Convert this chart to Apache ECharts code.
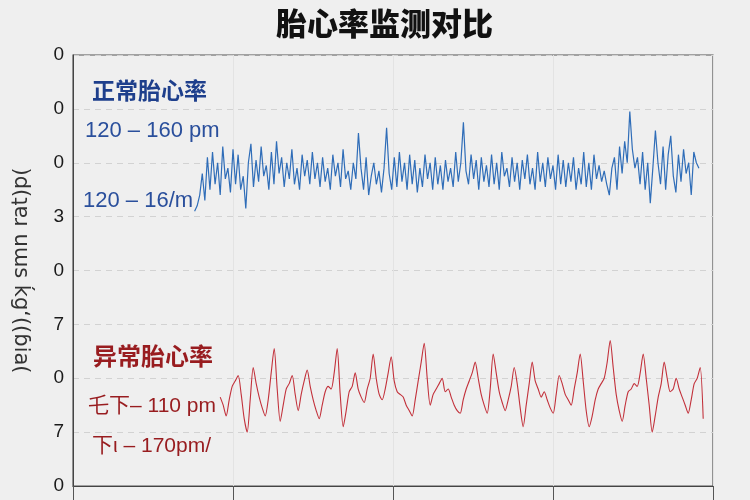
<!DOCTYPE html>
<html>
<head>
<meta charset="utf-8">
<script src="https://cdn.jsdelivr.net/npm/echarts@6/dist/echarts.min.js"></script>
<style>
  html, body { margin: 0; padding: 0; background: #efefef; }
  #main { width: 750px; height: 500px; }
</style>
</head>
<body>
<div id="main"></div>
<script>
// y axis tick labels (bottom to top), as printed in the picture
const yTickLabels = ['0', '7', '0', '7', '0', '3', '0', '0', '0']

// normal trace: start time (min) and sample step (min)
const normalStart = 7.6
const normalStep = 0.16
const normalFHR = [
  142, 144, 148, 156, 146, 162, 150, 164, 152, 160,
  148, 166, 154, 158, 149, 165, 152, 163, 150, 155,
  143, 160, 167, 151, 161, 153, 166, 155, 159, 150,
  164, 152, 168, 156, 162, 151, 160, 154, 165, 152,
  158, 150, 163, 155, 161, 152, 164, 154, 160, 151,
  162, 153, 158, 150, 163, 155, 160, 151, 165, 154,
  157, 150, 160, 154, 171, 158, 150, 162, 148, 155,
  160, 152, 157, 149, 158, 173, 156, 150, 162, 151,
  164, 153, 160, 150, 163, 152, 161, 149, 158, 151,
  163, 154, 160, 150, 162, 152, 159, 150, 161, 153,
  158, 151, 164, 153, 160, 175, 157, 152, 163, 154,
  161, 150, 162, 153, 159, 151, 163, 152, 160, 150,
  164, 155, 158, 151, 162, 153, 160, 150, 161, 154,
  163, 152, 158, 150, 164, 153, 160, 151, 162, 154,
  159, 150, 163, 152, 161, 151, 160, 153, 162, 150,
  158, 152, 164, 151, 160, 150, 163, 154, 159, 153,
  157, 152, 148, 158, 162, 150, 166, 156, 168, 160,
  179, 165, 158, 162, 152, 164, 150, 160, 145, 158,
  172, 160, 152, 166, 150, 163, 170, 155, 149, 163,
  153, 165, 156, 160, 148, 164, 160, 158
]

// abnormal trace
const abnormalStart = 9.2
const abnormalStep = 0.1875
const abnormalFHR = [
  73, 70, 66, 72, 77, 79, 81, 74, 65, 60,
  72, 84, 78, 73, 69, 66, 72, 82, 91, 76,
  64, 70, 76, 78, 81, 74, 68, 74, 79, 83,
  77, 72, 68, 65, 70, 75, 77, 76, 82, 91,
  74, 62, 68, 75, 77, 82, 76, 73, 71, 76,
  80, 89, 80, 74, 72, 76, 82, 88, 79, 75,
  74, 73, 70, 68, 66, 72, 79, 86, 93, 80,
  70, 74, 76, 78, 80, 75, 76, 73, 70, 68,
  67, 72, 76, 79, 82, 86, 80, 74, 70, 67,
  76, 89, 82, 75, 71, 68, 72, 77, 84, 78,
  69, 62, 70, 78, 86, 79, 76, 73, 75, 72,
  69, 67, 74, 81, 78, 74, 72, 70, 76, 82,
  89, 79, 68, 62, 66, 72, 76, 78, 80, 86,
  94, 84, 74, 68, 64, 70, 75, 76, 78, 77,
  82, 89, 80, 70, 60, 66, 73, 78, 86, 80,
  75, 76, 80, 76, 73, 70, 67, 72, 78, 80,
  84, 65
]

const toPairs = (start, step, vals) => vals.map((v, i) => [start + i * step, v])

const chart = echarts.init(document.getElementById('main'))
const latin = 'Liberation Sans, Arial, "Noto Sans CJK SC", sans-serif'
const cjk = '"Noto Sans CJK SC", sans-serif'

chart.setOption({
  backgroundColor: '#efefef',
  animation: false,
  title: {
    text: '胎心率监测对比',
    left: 271,
    top: 3,
    textStyle: { fontFamily: cjk, fontSize: 31, fontWeight: 900, color: '#111' },
  },
  grid: {
    left: 73, right: 37, top: 55, bottom: 14,
    show: true, borderColor: '#555', borderWidth: 1.2,
  },
  xAxis: {
    type: 'value',
    min: 0,
    max: 40,
    interval: 10,
    axisLine: { show: true, lineStyle: { color: '#444' } },
    axisTick: { show: true, length: 14, lineStyle: { color: '#555' } },
    axisLabel: { show: false },
    splitLine: { show: true, lineStyle: { color: '#e3e3e3', width: 1 } },
  },
  yAxis: {
    type: 'value',
    min: 40,
    max: 200,
    interval: 20,
    name: ')d(ʇɐɹ uɯs ḱgʻ((ɓia(',
    nameLocation: 'middle',
    nameRotate: -90,
    nameGap: 42,
    nameTextStyle: { fontFamily: 'DejaVu Sans, sans-serif', fontSize: 21, color: '#333' },
    axisLine: { show: true, lineStyle: { color: '#444' } },
    axisTick: { show: false },
    axisLabel: {
      fontFamily: latin, fontSize: 19, color: '#1a1a1a', margin: 9,
      formatter: (v) => yTickLabels[Math.round((v - 40) / 20)],
    },
    splitLine: { lineStyle: { color: '#d2d2d2', type: [6, 5] } },
  },
  series: [
    {
      name: '正常胎心率',
      type: 'line',
      data: toPairs(normalStart, normalStep, normalFHR),
      showSymbol: false,
      lineStyle: { color: '#2f6db8', width: 1.2 },
      z: 3,
    },
    {
      name: '异常胎心率',
      type: 'line',
      data: toPairs(abnormalStart, abnormalStep, abnormalFHR),
      showSymbol: false,
      smooth: 0.25,
      lineStyle: { color: '#c2303a', width: 1.1 },
      z: 3,
    },
  ],
  graphic: [
    { type: 'text', left: 92, top: 79, style: { text: '正常胎心率', fill: '#1e3f8c', font: 'bold 23px ' + cjk } },
    { type: 'text', left: 85, top: 120, style: { text: '120 – 160 pm', fill: '#2a4f9c', font: '22px ' + latin } },
    { type: 'text', left: 83, top: 190, style: { text: '120 – 16/m', fill: '#2a4f9c', font: '22px ' + latin } },
    { type: 'text', left: 93, top: 344, style: { text: '异常胎心率', fill: '#981c1f', font: 'bold 24px ' + cjk } },
    { type: 'text', left: 88, top: 396, style: { text: '乇下– 110 pm', fill: '#981c1f', font: '21px ' + latin } },
    { type: 'text', left: 92, top: 436, style: { text: '下ι – 170pm/', fill: '#981c1f', font: '21px ' + latin } },
  ],
})
</script>
</body>
</html>
